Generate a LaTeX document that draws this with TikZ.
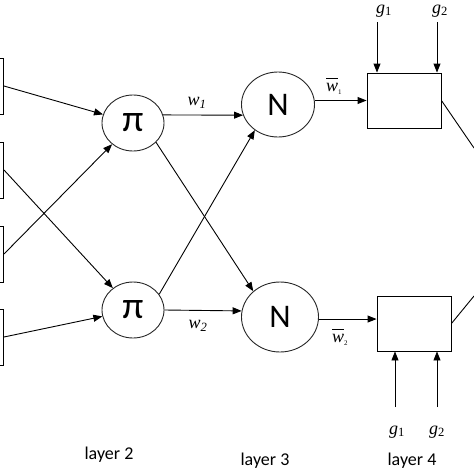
\documentclass[tikz,border=0pt]{standalone}
\usepackage{fontspec}
\setmainfont{Liberation Serif}
\newfontfamily\calfont{Carlito}
\usetikzlibrary{arrows.meta,shapes.geometric}
\begin{document}
\begin{tikzpicture}[x=1pt,y=-1pt,
  line width=0.9pt,
  inbox/.style={draw, minimum width=40pt, minimum height=56pt, anchor=east, inner sep=0pt},
  pinode/.style={draw=black!85, ellipse, minimum width=62pt, minimum height=56pt, inner sep=0pt,
    font=\calfont\fontsize{38}{38}\selectfont},
  nnode/.style={draw=black!85, ellipse, inner sep=0pt, font=\calfont\fontsize{33}{33}\selectfont},
  outbox/.style={draw, minimum width=74pt, minimum height=55pt, inner sep=0pt},
  arr/.style={-{Triangle[length=9pt,width=7pt]}},
  lbl/.style={font=\fontsize{18}{18}\selectfont, inner sep=0pt},
  layerlbl/.style={font=\calfont\fontsize{18}{18}\selectfont, inner sep=0pt}
]
\useasboundingbox (0,0) rectangle (474,474);

% layer 1 inputs (cut by left edge)
\node[inbox] (in1) at (4,86) {};
\node[inbox] (in2) at (4,170) {};
\node[inbox] (in3) at (4,254) {};
\node[inbox] (in4) at (4,337) {};

% layer 2
\node[pinode] (p1) at (133,123) {π};
\node[pinode] (p2) at (133,310) {π};

% layer 3
\node[nnode, minimum width=73pt, minimum height=65pt] (n1) at (278,104.5) {N};
\node[nnode, minimum width=77pt, minimum height=70pt] (n2) at (280,317) {N};

% layer 4
\node[outbox] (b1) at (404,100.5) {};
\node[outbox] (b2) at (414,323.5) {};

% inputs to layer 2
\draw[arr] (in1.east) -- (p1);
\draw[arr] (in2.east) -- (p2);
\draw[arr] (in3.east) -- (p1);
\draw[arr] (in4.east) -- (p2);

% layer 2 to layer 3
\draw[arr] (p1.15) -- (n1.197);
\draw[arr] (p2.east) -- (n2.171);
\draw[arr] (p1.-40) -- (n2.136);
\draw[arr] (p2.31) -- (n1.228);

% layer 3 to layer 4
\draw[arr] (n1.east |- b1.west) -- (b1.west);
\draw[arr] (n2.-3) -- (n2.-3 -| b2.west);

% premise inputs
\coordinate (gt1) at (377,22);
\coordinate (gt2) at (437,22);
\coordinate (gb1) at (395,407);
\coordinate (gb2) at (437,407);
\draw[arr] (gt1) -- (gt1 |- b1.north);
\draw[arr] (gt2) -- (gt2 |- b1.north);
\draw[arr] (gb1) -- (gb1 |- b2.south);
\draw[arr] (gb2) -- (gb2 |- b2.south);

% outputs leaving to the right
\coordinate (o1) at (474,148);
\coordinate (o2) at (474,296);
\draw (b1.east) -- (o1);
\draw (b2.east) -- (o2);

% labels
\node[lbl] (lw1) at (197,103) {\itshape w\textsubscript{1}};
\node[lbl] (lw2) at (198,326) {\itshape w\textsubscript{2}};
\node[lbl] (lwb1) at (334,86) {$\overline{\mbox{\vphantom{h}\itshape w}}_{\mbox{\scriptsize 1}}$};
\node[lbl] (lwb2) at (340,337) {$\overline{\mbox{\vphantom{h}\itshape w}}_{\mbox{\scriptsize 2}}$};
\node[lbl] (lgt1) at (384,11) {\itshape g\textsubscript{\upshape 1}};
\node[lbl] (lgt2) at (440,11) {\itshape g\textsubscript{\upshape 2}};
\node[lbl] (lgb1) at (397,432) {\itshape g\textsubscript{\upshape 1}};
\node[lbl] (lgb2) at (437,432) {\itshape g\textsubscript{\upshape 2}};

\node[layerlbl] (l2) at (109,454.5) {layer 2};
\node[layerlbl] (l3) at (265,461) {layer 3};
\node[layerlbl] (l4) at (412,461) {layer 4};
\end{tikzpicture}
\end{document}
